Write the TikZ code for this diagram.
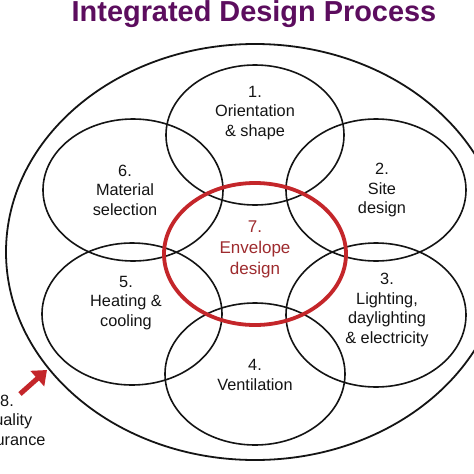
\documentclass[tikz,border=0pt]{standalone}
\usepackage{fontspec}
\setmainfont{Liberation Sans}
\usetikzlibrary{arrows.meta}
\definecolor{titlepurple}{HTML}{5C0D5E}
\definecolor{envred}{HTML}{C4262A}
\definecolor{envtext}{HTML}{9E2B2E}
\definecolor{ink}{HTML}{141414}
\begin{document}
\begin{tikzpicture}[x=1pt,y=-1pt,
  ring/.style={draw=ink,line width=1.6pt},
  label/.style={align=center,text=ink,font=\fontsize{16.3}{19.5}\selectfont,inner sep=0pt},
]
\useasboundingbox (0,0) rectangle (474,474);
\fill[white] (0,0) rectangle (474,474);
% title
\node[font=\fontsize{28.9}{30}\selectfont\bfseries,text=titlepurple,inner sep=0pt] (title) at (254,14) {Integrated Design Process};
% outer boundary
\draw[ring,line width=1.8pt] (255,252) ellipse [x radius=249, y radius=208];
% ellipses
\draw[ring] (255,135) ellipse [x radius=89, y radius=70];
\draw[ring] (376,190) ellipse [x radius=90, y radius=71];
\draw[ring] (376,315) ellipse [x radius=90, y radius=72];
\draw[ring] (255,374) ellipse [x radius=90, y radius=71];
\draw[ring] (132,314) ellipse [x radius=90, y radius=71];
\draw[ring] (133,190) ellipse [x radius=90, y radius=71];
\draw[draw=envred,line width=3.8pt] (255,254) ellipse [x radius=91, y radius=71];
% labels
\node[label] (n1) at (255,113) {1.\\Orientation\\\& shape};
\node[label] (n2) at (382,190) {2.\\Site\\design};
\node[label] (n3) at (387,310) {3.\\Lighting,\\daylighting\\\& electricity};
\node[label] (n4) at (255,375) {4.\\Ventilation};
\node[label] (n5) at (126,303) {5.\\Heating \&\\cooling};
\node[label] (n6) at (125,190) {6.\\Material\\selection};
\node[label,text=envtext,font=\fontsize{17}{21}\selectfont] (n7) at (255,249) {7.\\Envelope\\design};
\node[label] (n8) at (7,420) {8.\\Quality\\Assurance};
% arrow
\coordinate (atail) at (20,394);
\coordinate (ahead) at (47,370);
\draw[envred,line width=5pt,-{Triangle[length=13pt,width=20pt]}] (atail) -- (ahead);
\end{tikzpicture}
\end{document}
